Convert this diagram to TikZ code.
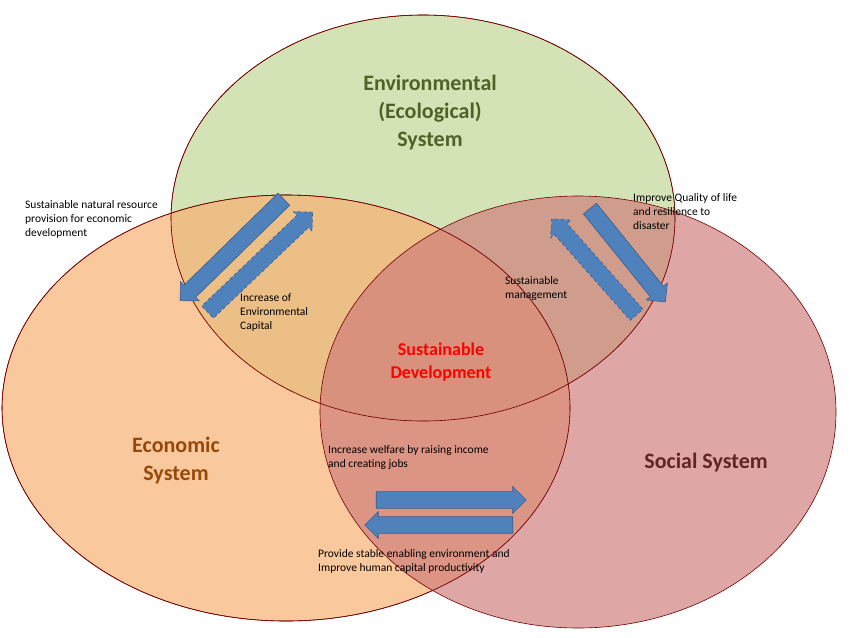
\documentclass[tikz,border=0pt]{standalone}
\usepackage{fontspec}
\setmainfont{Carlito}
\usetikzlibrary{shapes.arrows}
\definecolor{envc}{HTML}{BFD694}
\definecolor{ecoc}{HTML}{F9AE70}
\definecolor{socc}{HTML}{CF7C7A}
\definecolor{arrb}{HTML}{4F81BD}
\definecolor{arre}{HTML}{385D8A}
\definecolor{envt}{HTML}{4F6228}
\definecolor{ecot}{HTML}{984807}
\definecolor{soct}{HTML}{632523}
\tikzset{
  circ/.style={draw=black!55!red, line width=0.6pt, fill opacity=0.68},
  barrow/.style={single arrow, fill=arrb, draw=arre, line width=0.6pt, minimum width=27pt, single arrow head extend=5pt, single arrow tip angle=90, inner xsep=0pt, inner ysep=8pt, minimum height=#1},
  lbl/.style={font=\fontsize{11.5}{14}\selectfont, align=left, anchor=north west, inner sep=0pt},
  title/.style={font=\fontsize{22}{28}\selectfont\bfseries, align=center}
}
\begin{document}
\begin{tikzpicture}[x=1pt,y=-1pt]
\useasboundingbox (0,0) rectangle (850,637);
\fill[white] (0,0) rectangle (850,637);
\path[circ, fill=envc] (423,218) ellipse[x radius=252, y radius=203];
\path[circ, fill=ecoc] (286,408) ellipse[x radius=284, y radius=213];
\path[circ, fill=socc] (578,412) ellipse[x radius=258, y radius=216];
\draw[draw=black!55!red, line width=0.6pt] (423,218) ellipse[x radius=252, y radius=203];
\draw[draw=black!55!red, line width=0.6pt] (286,408) ellipse[x radius=284, y radius=213];
% arrows
\node[barrow=145pt, rotate=224.4] (a1) at (235,247) {};
\node[barrow=145pt, rotate=43.6, dashed] (a2) at (257,265) {};
\node[barrow=120pt, rotate=-51.1] (a3) at (625,252) {};
\node[barrow=128pt, rotate=131.5, dashed] (a4) at (597,270) {};
\node[barrow=150pt] (a5) at (447,500) {};
\node[barrow=148pt, rotate=180] (a6) at (443,525) {};
% texts
\node[title, text=envt] (envn) at (430,113) {Environmental\\(Ecological)\\System};
\node[title, text=ecot] (eco) at (176,461) {Economic\\System};
\node[title, text=soct] (soc) at (706,463) {Social System};
\node[font=\fontsize{18}{23}\selectfont\bfseries, text=red, align=center] (sd) at (441,362) {Sustainable\\Development};
\node[lbl] (t1) at (25,200) {Sustainable natural resource\\provision for economic\\development};
\node[lbl] (t2) at (240,293) {Increase of\\Environmental\\Capital};
\node[lbl] (t3) at (633,193) {Improve Quality of life\\and resilience to\\disaster};
\node[lbl] (t4) at (505,276) {Sustainable\\management};
\node[lbl] (t5) at (328,445) {Increase welfare by raising income\\and creating jobs};
\node[lbl] (t6) at (318,549) {Provide stable enabling environment and\\Improve human capital productivity};
\end{tikzpicture}
\end{document}
